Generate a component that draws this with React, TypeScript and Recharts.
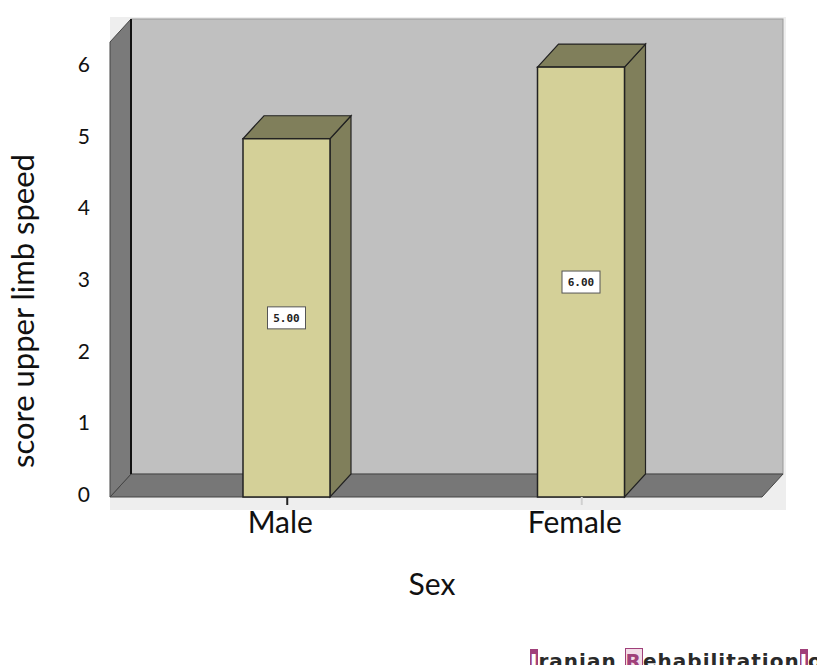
import { BarChart, Bar, XAxis, YAxis, ReferenceArea, LabelList } from "recharts";

const categories = ["Male", "Female"];
const scores = [5, 6];
const valueLabels = ["5.00", "6.00"];
const yTicks = [0, 1, 2, 3, 4, 5, 6];

const data = categories.map((sex, i) => ({ sex, score: scores[i], label: valueLabels[i] }));

const DX = 21;
const DY = 23;
const FONT = "Lato, 'Open Sans', sans-serif";

// 3d box bar: front face + side + top
const Bar3D = (props: any) => {
  const { x, y, width: w, height: h } = props;
  if (w == null || h == null) return null;
  return (
    <g>
      <polygon
        points={`${x + w},${y} ${x + w + DX},${y - DY} ${x + w + DX},${y + h - DY} ${x + w},${y + h}`}
        fill="#807f5b"
        stroke="#222"
        strokeWidth={1.2}
      />
      <polygon
        points={`${x},${y} ${x + DX},${y - DY} ${x + w + DX},${y - DY} ${x + w},${y}`}
        fill="#807f5b"
        stroke="#222"
        strokeWidth={1.2}
      />
      <rect x={x} y={y} width={w} height={h} fill="#d4d098" stroke="#222" strokeWidth={1.5} />
    </g>
  );
};

// back wall, left wall and floor drawn from the plot rectangle
const Frame = (props: any) => {
  const { x, y, width: w, height: h } = props;
  const r = x + w;
  const b = y + h;
  return (
    <g>
      <rect x={x} y={y - DY - 2} width={w + DX + 3} height={h + DY + 15} fill="#eeeeee" />
      <rect x={x + DX} y={y - DY} width={w} height={h} fill="#c0c0c0" stroke="#999" strokeWidth={1} />
      <polygon
        points={`${x},${b} ${x + DX},${b - DY} ${r + DX},${b - DY} ${r},${b}`}
        fill="#777777"
        stroke="#444"
        strokeWidth={1}
      />
      <polygon
        points={`${x},${y} ${x + DX},${y - DY} ${x + DX},${b - DY} ${x},${b}`}
        fill="#7a7a7a"
        stroke="#444"
        strokeWidth={1}
      />
      <line x1={x + DX} y1={y - DY} x2={x + DX} y2={b - DY} stroke="#111" strokeWidth={2} />
    </g>
  );
};

const XTick = (props: any) => {
  const { x, y, payload, index } = props;
  return (
    <g>
      <line x1={x + 1} y1={y} x2={x + 1} y2={y + 8} stroke={index === 0 ? "#222" : "#d0d0d0"} strokeWidth={2} />
      <text x={x - 6} y={y + 36} textAnchor="middle" fontSize={30} fontFamily={FONT} fill="#111">
        {payload.value}
      </text>
    </g>
  );
};

const YTick = (props: any) => {
  const { x, y, payload } = props;
  return (
    <text x={x} y={y - 2} dy={7} textAnchor="end" fontSize={21} fontFamily={FONT} fill="#111">
      {payload.value}
    </text>
  );
};

const ValueBox = (props: any) => {
  const { x, y, width, height, value } = props;
  const cx = x + width / 2;
  const cy = y + height / 2;
  return (
    <g>
      <rect x={cx - 19} y={cy - 11} width={38} height={22} fill="#fff" stroke="#555" strokeWidth={1} />
      <text x={cx} y={cy + 4} textAnchor="middle" fontSize={11} fontWeight="bold" fontFamily="'DejaVu Sans Mono', monospace" fill="#222">
        {value}
      </text>
    </g>
  );
};

export default function App() {
  return (
    <div style={{ position: "absolute", left: 0, top: 0, width: 817, height: 665, background: "#fff", overflow: "hidden" }}>
      <BarChart width={817} height={665} data={data} margin={{ top: 42, right: 55, bottom: 108, left: 0 }}>
        <XAxis xAxisId="frame" type="number" domain={[0, 1]} hide />
        <XAxis
          dataKey="sex"
          axisLine={false}
          tickLine={false}
          tickSize={0}
          tickMargin={0}
          height={60}
          padding={{ left: 29, right: 34 }}
          tick={<XTick />}
          interval={0}
          label={{
            position: "bottom",
            content: (p: any) => (
              <text
                x={p.viewBox.x + p.viewBox.width / 2 - 4}
                y={595}
                textAnchor="middle"
                fontSize={30}
                fontFamily={FONT}
                fill="#111"
              >
                Sex
              </text>
            ),
          }}
        />
        <YAxis
          domain={[0, 6.35]}
          ticks={yTicks}
          width={110}
          axisLine={false}
          tickLine={false}
          tickSize={0}
          tickMargin={20}
          tick={<YTick />}
          label={{
            position: "insideLeft",
            content: () => (
              <text
                x={0}
                y={0}
                transform="translate(34,311) rotate(-90)"
                textAnchor="middle"
                fontSize={31}
                fontFamily={FONT}
                fill="#111"
              >
                score upper limb speed
              </text>
            ),
          }}
        />
        <ReferenceArea xAxisId="frame" x1={0} x2={1} y1={0} y2={6.35} shape={<Frame />} fillOpacity={1} />
        <Bar dataKey="score" barSize={87} shape={<Bar3D />} isAnimationActive={false}>
          <LabelList dataKey="label" content={<ValueBox />} />
        </Bar>
      </BarChart>
      <div
        style={{
          position: "absolute",
          left: 530,
          top: 651,
          fontFamily: "'DejaVu Sans', sans-serif",
          fontWeight: "bold",
          fontSize: 20,
          lineHeight: "20px",
          color: "#2a2a2a",
          whiteSpace: "nowrap",
          letterSpacing: 1,
        }}
      >
        <span style={{ background: "#a0407a", color: "#fff" }}>I</span>ranian{" "}
        <span style={{ border: "1px solid #a0407a", color: "#a0407a", background: "#f3dde8" }}>R</span>ehabilitation
        <span style={{ background: "#a0407a", color: "#fff" }}>J</span>ournal
      </div>
    </div>
  );
}
